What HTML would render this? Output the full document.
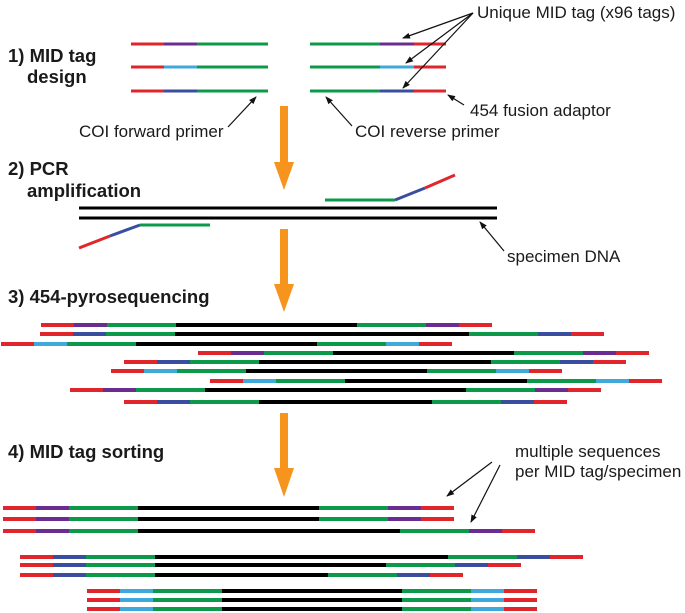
<!DOCTYPE html>
<html><head><meta charset="utf-8"><style>
html,body{margin:0;padding:0;background:#fff;}
svg{display:block;}
text{font-family:"Liberation Sans",Arial,sans-serif;fill:#1a1a1a;}
.b{font-weight:bold;font-size:18.5px;}
.n{font-size:17px;}
</style></head><body>
<svg width="685" height="613" viewBox="0 0 685 613" xmlns="http://www.w3.org/2000/svg">
<defs><marker id="ah" markerWidth="8" markerHeight="8" refX="7" refY="4" orient="auto" markerUnits="userSpaceOnUse"><path d="M0,1 L8,4 L0,7 z" fill="#111"/></marker></defs>
<g stroke-width="3" fill="none">
<path stroke="#e0262b" d="M131 44H164M131 67H164M131 91H164M414 44H446M414 67H446M414 91H446"/>
<path stroke="#6a2c91" d="M164 44H197M380 44H414"/>
<path stroke="#3fa9dc" d="M164 67H197M380 67H414"/>
<path stroke="#3a4ea0" d="M164 91H197M380 91H414"/>
<path stroke="#0c9a4a" d="M197 44H268M197 67H268M197 91H268M310 44H380M310 67H380M310 91H380"/>
<path stroke="#000" d="M79 208H497M79 218H497"/>
<path stroke="#0c9a4a" d="M325 200H395M140 225H210"/>
<path stroke="#3a4ea0" d="M395 200L425 188M140 225L110 236"/>
<path stroke="#e0262b" d="M425 188L455 175M110 236L79 248"/>
</g>
<g stroke-width="4" fill="none">
<path stroke="#e0262b" d="M41 325H74M459 325H492M40 334H73M571 334H604M1 344H34M419 344H452M198 353H231M616 353H649M124 362H157M593 362H626M111 371H144M529 371H562M210 381H243M629 381H662M70 390H103M568 390H601M124 402H157M534 402H567M3 508H36M421 508H454M3 519H36M421 519H454M3 531H36M502 531H535M20 557H53M550 557H583M20 565H53M488 565H521M20 575H53M430 575H463M87 591H120M504 591H537M87 600H120M504 600H537M87 609H120M504 609H537"/>
<path stroke="#6a2c91" d="M74 325H107M426 325H459M231 353H264M583 353H616M103 390H136M535 390H568M36 508H69M388 508H421M36 519H69M388 519H421M36 531H69M469 531H502"/>
<path stroke="#3a4ea0" d="M73 334H106M538 334H571M157 362H190M560 362H593M157 402H190M501 402H534M53 557H86M517 557H550M53 565H86M455 565H488M53 575H86M397 575H430"/>
<path stroke="#3fa9dc" d="M34 344H67M386 344H419M144 371H177M496 371H529M243 381H276M596 381H629M120 591H153M471 591H504M120 600H153M471 600H504M120 609H153M471 609H504"/>
<path stroke="#0c9a4a" d="M107 325H176M357 325H426M106 334H175M469 334H538M67 344H136M317 344H386M264 353H333M514 353H583M190 362H259M491 362H560M177 371H246M427 371H496M276 381H345M527 381H596M136 390H205M466 390H535M190 402H259M432 402H501M69 508H138M319 508H388M69 519H138M319 519H388M69 531H138M400 531H469M86 557H155M448 557H517M86 565H155M386 565H455M86 575H155M328 575H397M153 591H222M402 591H471M153 600H222M402 600H471M153 609H222M402 609H471"/>
<path stroke="#000" d="M176 325H357M175 334H469M136 344H317M333 353H514M259 362H491M246 371H427M345 381H527M205 390H466M259 402H432M138 508H319M138 519H319M138 531H400M155 557H448M155 565H386M155 575H328M222 591H402M222 600H402M222 609H402"/>
</g>
<g fill="#f7941d">
<rect x="280" y="106" width="8" height="58"/><path d="M274 162H294L284 190z"/>
<rect x="280" y="229" width="8" height="57"/><path d="M274 284H294L284 312z"/>
<rect x="280" y="413" width="8" height="57"/><path d="M274 468H294L284 497z"/>
</g>
<g stroke="#111" stroke-width="1.2" fill="none" marker-end="url(#ah)">
<path d="M473 13L403 38"/><path d="M473 13L406 63"/><path d="M473 13L403 88"/>
<path d="M464 105L448 95"/>
<path d="M228 127L256 97"/>
<path d="M352 126L326 97"/>
<path d="M504 251L480 222"/>
<path d="M492 462L447 496"/><path d="M500 465L471 522"/>
</g>
<text class="b" x="8" y="62">1) MID tag</text>
<text class="b" x="27" y="83">design</text>
<text class="b" x="8" y="175">2) PCR</text>
<text class="b" x="27" y="197">amplification</text>
<text class="b" x="8" y="303">3) 454-pyrosequencing</text>
<text class="b" x="8" y="458">4) MID tag sorting</text>
<text class="n" x="477" y="18">Unique MID tag (x96 tags)</text>
<text class="n" x="470" y="116">454 fusion adaptor</text>
<text class="n" x="79" y="137">COI forward primer</text>
<text class="n" x="355" y="137">COI reverse primer</text>
<text class="n" x="507" y="262">specimen DNA</text>
<text class="n" x="515" y="457">multiple sequences</text>
<text class="n" x="515" y="477">per MID tag/specimen</text>
</svg>
</body></html>
